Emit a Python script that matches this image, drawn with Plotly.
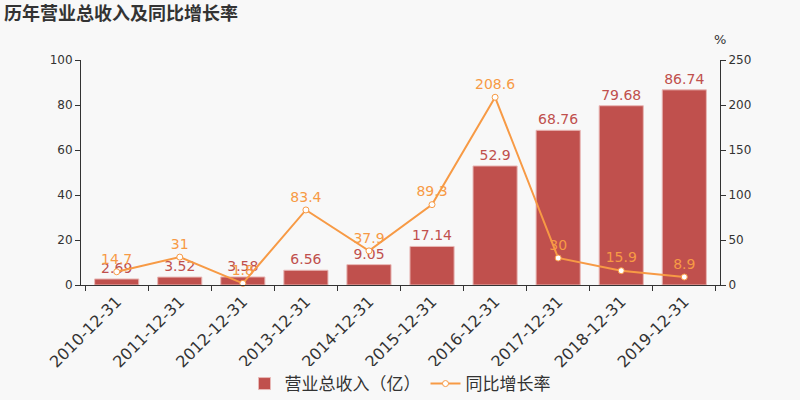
import plotly.graph_objects as go

categories = ["2010-12-31", "2011-12-31", "2012-12-31", "2013-12-31", "2014-12-31",
              "2015-12-31", "2016-12-31", "2017-12-31", "2018-12-31", "2019-12-31"]
revenue = [2.69, 3.52, 3.58, 6.56, 9.05, 17.14, 52.9, 68.76, 79.68, 86.74]
growth = [14.7, 31, 1.8, 83.4, 37.9, 89.3, 208.6, 30, 15.9, 8.9]

bar_color = "#c0504d"
line_color = "#f79a45"
font_fam = "Noto Sans CJK SC, DejaVu Sans, sans-serif"

fig = go.Figure()
fig.add_trace(go.Bar(
    x=categories, y=revenue, name="营业总收入（亿）",
    marker=dict(color=bar_color, line=dict(color="#e8b8b6", width=1)),
    text=[str(v) for v in revenue], textposition="outside",
    textfont=dict(color=bar_color, size=14, family="DejaVu Sans"),
    cliponaxis=False, width=0.7,
))
fig.add_trace(go.Scatter(
    x=categories, y=growth, name="同比增长率", yaxis="y2",
    mode="lines+markers+text",
    line=dict(color=line_color, width=2),
    marker=dict(size=6, color="white", line=dict(color=line_color, width=1)),
    text=[str(v) for v in growth], textposition="top center",
    textfont=dict(color=line_color, size=14, family="DejaVu Sans"),
    cliponaxis=False,
))

axis_common = dict(showline=True, linecolor="#333", linewidth=1, ticks="outside",
                   ticklen=5, tickcolor="#333", showgrid=False, zeroline=False,
                   automargin=False,
                   tickfont=dict(size=12, color="#333", family="DejaVu Sans"))

fig.update_layout(
    width=800, height=400,
    paper_bgcolor="#f8f8f8", plot_bgcolor="#f8f8f8",
    margin=dict(l=81, r=80, t=60, b=115),
    title=dict(text="<b>历年营业总收入及同比增长率</b>", x=0.005, xanchor="left",
               y=0.967, yanchor="middle", automargin=False,
               font=dict(size=18, color="#333", family=font_fam)),
    xaxis=dict(type="category", showline=True, linecolor="#333", ticks="outside", ticklen=5,
               tickcolor="#333", tickangle=-45, automargin=False, tickson="boundaries",
               tickfont=dict(size=16, color="#333", family="DejaVu Sans")),
    yaxis=dict(range=[0, 100], dtick=20, **axis_common),
    yaxis2=dict(range=[0, 250], dtick=50, overlaying="y", side="right", **axis_common),
    legend=dict(orientation="h", x=0.5, xanchor="center", xref="container",
                y=0.04, yref="container", yanchor="middle",
                font=dict(size=17, color="#333", family=font_fam)),
    showlegend=True,
    bargap=0.3,
    annotations=[dict(text="%", xref="paper", yref="paper", x=1.0, y=1.05,
                      xanchor="center", yanchor="bottom", showarrow=False,
                      font=dict(size=13, color="#333", family="DejaVu Sans"))],
)

fig.write_html("out.html")
